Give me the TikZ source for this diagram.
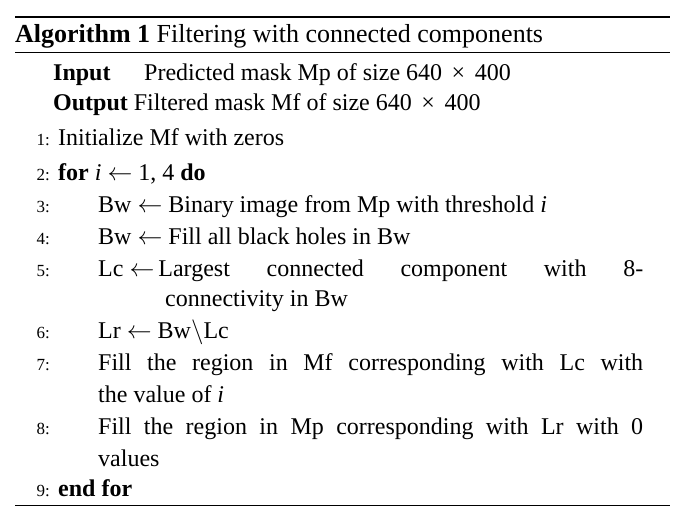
\documentclass[tikz,border=0pt]{standalone}
\usepackage{fontspec}
\setmainfont{Liberation Serif}
\newcommand{\la}{$\leftarrow$}
\begin{document}
\begin{tikzpicture}[x=1pt,y=-1pt,
  txt/.style={anchor=base west,inner sep=0pt,font=\fontsize{24}{28}\selectfont},
  num/.style={anchor=base east,inner sep=0pt,font=\fontsize{17}{20}\selectfont}]
\useasboundingbox (0,0) rectangle (700,522);
\draw[line width=1.4pt] (15,17) -- (670,17);
\draw[line width=0.8pt] (15,52) -- (670,52);
\draw[line width=0.8pt] (15,505) -- (670,505);
\node[txt,font=\fontsize{26}{30}\selectfont] (t) at (15,42) {\textbf{Algorithm 1} Filtering with connected components};
\node[txt] (inl) at (53,80) {\textbf{Input}};
\node[txt] (in) at (144,80) {Predicted mask Mp of size 640\hspace{0.4em}×\hspace{0.4em}400};
\node[txt] (out) at (53,110) {\textbf{Output} Filtered mask Mf of size 640\hspace{0.4em}×\hspace{0.4em}400};
\foreach \n/\y in {1/145,2/180,3/212,4/244,5/276,6/338,7/370,8/434,9/496}
  \node[num] (n\n) at (50,\y) {\n:};
\node[txt] (l1) at (58,145) {Initialize Mf with zeros};
\node[txt] (l2) at (58,180) {\textbf{for} \textit{i} \la{} 1, 4 \textbf{do}};
\node[txt] (l3) at (98,212) {Bw \la{} Binary image from Mp with threshold \textit{i}};
\node[txt] (l4) at (98,244) {Bw \la{} Fill all black holes in Bw};
\node[txt] (l5) at (98,276) {\makebox[545pt][s]{\mbox{Lc \la\,Largest} connected component with 8-}};
\node[txt] (l5b) at (165,306) {connectivity in Bw};
\node[txt] (l6) at (98,338) {Lr \la{} Bw$\backslash$Lc};
\node[txt] (l7) at (98,370) {\makebox[545pt][s]{Fill the region in Mf corresponding with Lc with}};
\node[txt] (l7b) at (98,402) {the value of \textit{i}};
\node[txt] (l8) at (98,434) {\makebox[545pt][s]{Fill the region in Mp corresponding with Lr with 0}};
\node[txt] (l8b) at (98,466) {values};
\node[txt] (l9) at (58,496) {\textbf{end for}};
\end{tikzpicture}
\end{document}
